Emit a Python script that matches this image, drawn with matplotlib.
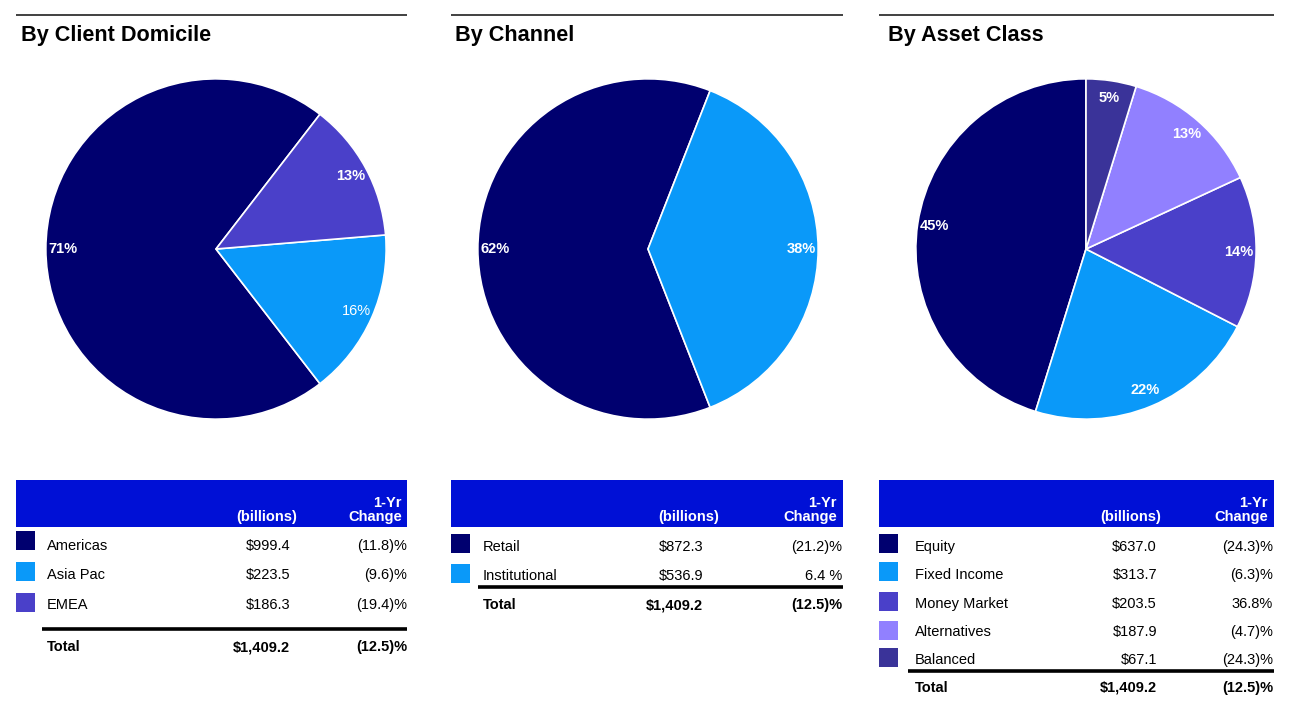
import matplotlib
matplotlib.use("Agg")
import matplotlib.pyplot as plt
from matplotlib.patches import Rectangle

plt.rcParams['font.family'] = ['Liberation Sans', 'DejaVu Sans']

# ---------------- data ----------------
titles = ["By Client Domicile", "By Channel", "By Asset Class"]

domicile_names = ["Americas", "Asia Pac", "EMEA"]
domicile_values = [999.4, 223.5, 186.3]
domicile_changes = ["(11.8)%", "(9.6)%", "(19.4)%"]

channel_names = ["Retail", "Institutional"]
channel_values = [872.3, 536.9]
channel_changes = ["(21.2)%", "6.4 %"]

asset_names = ["Equity", "Fixed Income", "Money Market", "Alternatives", "Balanced"]
asset_values = [637.0, 313.7, 203.5, 187.9, 67.1]
asset_changes = ["(24.3)%", "(6.3)%", "36.8%", "(4.7)%", "(24.3)%"]

total_value = 1409.2
total_change = "(12.5)%"

header_units = "(billions)"
header_change = ["1-Yr", "Change"]

# ---------------- style ----------------
NAVY = "#00006F"
LBLUE = "#0A99F9"
PURPLE = "#4A40C9"
LAV = "#9180FF"
BAL = "#3A3399"
HEAD = "#0010D6"

W, H = 1295, 706
fig = plt.figure(figsize=(W / 100, H / 100), dpi=100)
bg = fig.add_axes([0, 0, 1, 1])
bg.set_xlim(0, W)
bg.set_ylim(H, 0)
bg.axis("off")

panels = [
    dict(names=domicile_names, values=domicile_values, changes=domicile_changes,
         colors=[NAVY, LBLUE, PURPLE], start=180 - 180 * domicile_values[0] / sum(domicile_values),
         cx=216, x0=16, x1=407, title_x=21,
         name_x=47, val_x=290, chg_x=407, bil_x=297, yr_x=402,
         sw_y=[531, 562, 593], txt_y=[546, 575, 605],
         line_y=629, line_x0=42, tot_y=647, nonbold=[1]),
    dict(names=channel_names, values=channel_values, changes=channel_changes,
         colors=[NAVY, LBLUE], start=180 - 180 * channel_values[0] / sum(channel_values),
         cx=648, x0=451, x1=843, title_x=455,
         name_x=483, val_x=703, chg_x=842, bil_x=719, yr_x=837,
         sw_y=[534, 564], txt_y=[547, 576],
         line_y=587, line_x0=478, tot_y=605, nonbold=[]),
    dict(names=asset_names, values=asset_values, changes=asset_changes,
         colors=[NAVY, LBLUE, PURPLE, LAV, BAL], start=90,
         cx=1086, x0=879, x1=1274, title_x=888,
         name_x=915, val_x=1157, chg_x=1273, bil_x=1161, yr_x=1268,
         sw_y=[534, 562, 592, 621, 648], txt_y=[547, 575, 604, 632, 660],
         line_y=671, line_x0=908, tot_y=688, nonbold=[]),
]

CY, R = 249, 171
FS = 10.5

for title, p in zip(titles, panels):
    # title rule + title
    bg.plot([p["x0"], p["x1"]], [15, 15], color="#404040", lw=1.4, solid_capstyle="butt")
    bg.text(p["title_x"], 35, title, fontsize=15.6, fontweight="bold", ha="left", va="center", color="black")

    # pie
    cx = p["cx"]
    ax = fig.add_axes([(cx - R) / W, 1 - (CY + R) / H, 2 * R / W, 2 * R / H])
    wedges, texts, autotexts = ax.pie(
        p["values"], colors=p["colors"], startangle=p["start"], counterclock=True,
        autopct="%.0f%%", pctdistance=0.9, radius=1,
        wedgeprops=dict(edgecolor="white", linewidth=1.2),
        textprops=dict(color="white", fontsize=10.5, fontweight="bold"))
    for i in p["nonbold"]:
        autotexts[i].set_fontweight("normal")
    ax.set_xlim(-1.005, 1.005)
    ax.set_ylim(-1.005, 1.005)
    ax.set_aspect("equal")
    ax.axis("off")

    # table header band
    bg.add_patch(Rectangle((p["x0"], 480), p["x1"] - p["x0"], 47, color=HEAD, lw=0))
    bg.text(p["bil_x"], 517, header_units, color="white", fontsize=FS, fontweight="bold", ha="right", va="center")
    bg.text(p["yr_x"], 503, header_change[0], color="white", fontsize=FS, fontweight="bold", ha="right", va="center")
    bg.text(p["yr_x"], 517, header_change[1], color="white", fontsize=FS, fontweight="bold", ha="right", va="center")

    # rows
    for name, val, chg, col, sy, ty in zip(p["names"], p["values"], p["changes"], p["colors"], p["sw_y"], p["txt_y"]):
        bg.add_patch(Rectangle((p["x0"], sy), 19, 19, color=col, lw=0))
        bg.text(p["name_x"], ty, name, fontsize=FS, ha="left", va="center", color="black")
        bg.text(p["val_x"], ty, f"${val:,.1f}", fontsize=FS, ha="right", va="center", color="black")
        bg.text(p["chg_x"], ty, chg, fontsize=FS, ha="right", va="center", color="black")

    # total
    bg.plot([p["line_x0"], p["x1"]], [p["line_y"], p["line_y"]], color="black", lw=2.6, solid_capstyle="butt")
    bg.text(p["name_x"], p["tot_y"], "Total", fontsize=FS, fontweight="bold", ha="left", va="center")
    bg.text(p["val_x"], p["tot_y"], f"${total_value:,.1f}", fontsize=FS, fontweight="bold", ha="right", va="center")
    bg.text(p["chg_x"], p["tot_y"], total_change, fontsize=FS, fontweight="bold", ha="right", va="center")

fig.savefig("out.png", dpi=100, facecolor="white")
